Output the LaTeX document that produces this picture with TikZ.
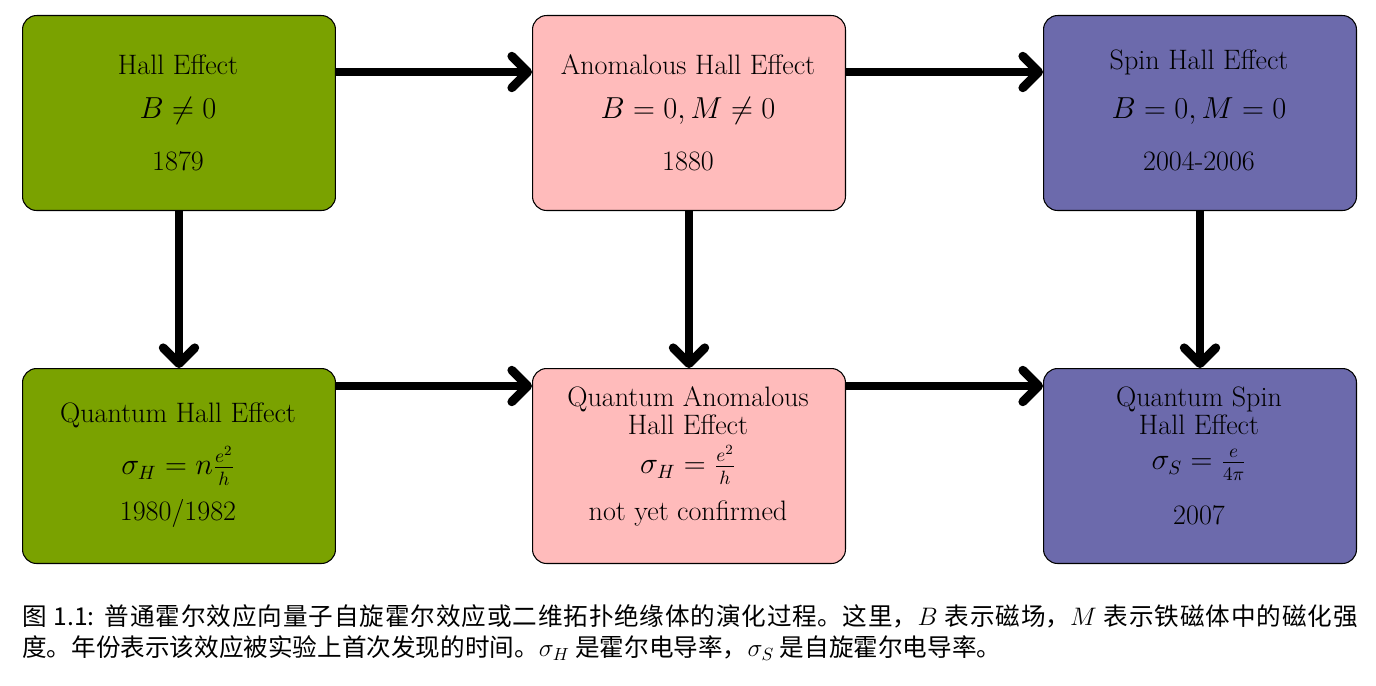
\documentclass[tikz,border=0pt]{standalone}
\usepackage{fontspec}
\newfontfamily\cjk{Noto Sans CJK SC}
\usetikzlibrary{arrows.meta}
\XeTeXlinebreaklocale "zh"
\XeTeXlinebreakskip=0pt plus 1pt
\definecolor{hgreen}{HTML}{7AA200}
\definecolor{hpink}{HTML}{FFBBBB}
\definecolor{hpurple}{HTML}{6C6AAC}
\begin{document}
\begin{tikzpicture}[x=0.02cm,y=-0.02cm,
  box/.style={draw=black,line width=0.6pt,rounded corners=8pt,minimum width=6.26cm,minimum height=3.9cm,anchor=north west},
  txt/.style={font=\fontsize{16}{19}\selectfont,align=center},
  arr/.style={line width=5pt,-{Straight Barb[length=9pt,width=18pt,line width=5pt,round]}}]
\useasboundingbox (0,0) rectangle (1376,686);
\node[box,fill=hgreen] (b1) at (22,15) {};
\node[box,fill=hpink] (b2) at (532,15) {};
\node[box,fill=hpurple] (b3) at (1043,15) {};
\node[box,fill=hgreen] (b4) at (22,368) {};
\node[box,fill=hpink] (b5) at (532,368) {};
\node[box,fill=hpurple] (b6) at (1043,368) {};
% texts
\node[txt] (t1a) at (178,65) {Hall Effect};
\node[txt] (t1b) at (178,111) {$B\neq 0$};
\node[txt] (t1c) at (178,161) {1879};
\node[txt] (t2a) at (688,65) {Anomalous Hall Effect};
\node[txt] (t2b) at (688,111) {$B=0,M\neq 0$};
\node[txt] (t2c) at (688,161) {1880};
\node[txt] (t3a) at (1199,62) {Spin Hall Effect};
\node[txt] (t3b) at (1199,111) {$B=0,M=0$};
\node[txt] (t3c) at (1199,161) {2004-2006};
\node[txt] (t4a) at (178,415) {Quantum Hall Effect};
\node[txt] (t4b) at (178,466) {$\sigma_H=n\frac{e^2}{h}$};
\node[txt] (t4c) at (178,513) {1980/1982};
\node[txt] (t5a) at (688,411) {Quantum Anomalous\\[-3pt]Hall Effect};
\node[txt] (t5b) at (688,465) {$\sigma_H=\frac{e^2}{h}$};
\node[txt] (t5c) at (688,513) {not yet confirmed};
\node[txt] (t6a) at (1199,411) {Quantum Spin\\[-3pt]Hall Effect};
\node[txt] (t6b) at (1199,465) {$\sigma_S=\frac{e}{4\pi}$};
\node[txt] (t6c) at (1199,515) {2007};
% arrows
\coordinate (a1) at (335,72); \coordinate (a2) at (532,72);
\coordinate (a3) at (845,72); \coordinate (a4) at (1043,72);
\coordinate (a5) at (335,386); \coordinate (a6) at (532,386);
\coordinate (a7) at (845,386); \coordinate (a8) at (1043,386);
\draw[arr] (a1) -- (a2);
\draw[arr] (a3) -- (a4);
\draw[arr] (a5) -- (a6);
\draw[arr] (a7) -- (a8);
\draw[arr] (b1.south) -- (b4.north);
\draw[arr] (b2.south) -- (b5.north);
\draw[arr] (b3.south) -- (b6.north);
% caption
\node[anchor=north west,inner sep=0pt,text width=760pt,align=justify,font=\fontsize{14}{18}\selectfont\cjk] (cap) at (22,604)
{图 1.1: 普通霍尔效应向量子自旋霍尔效应或二维拓扑绝缘体的演化过程。这里，$B$ 表示磁场，$M$ 表示铁磁体中的磁化强度。年份表示该效应被实验上首次发现的时间。$\sigma_H$ 是霍尔电导率，$\sigma_S$ 是自旋霍尔电导率。};
\end{tikzpicture}
\end{document}
